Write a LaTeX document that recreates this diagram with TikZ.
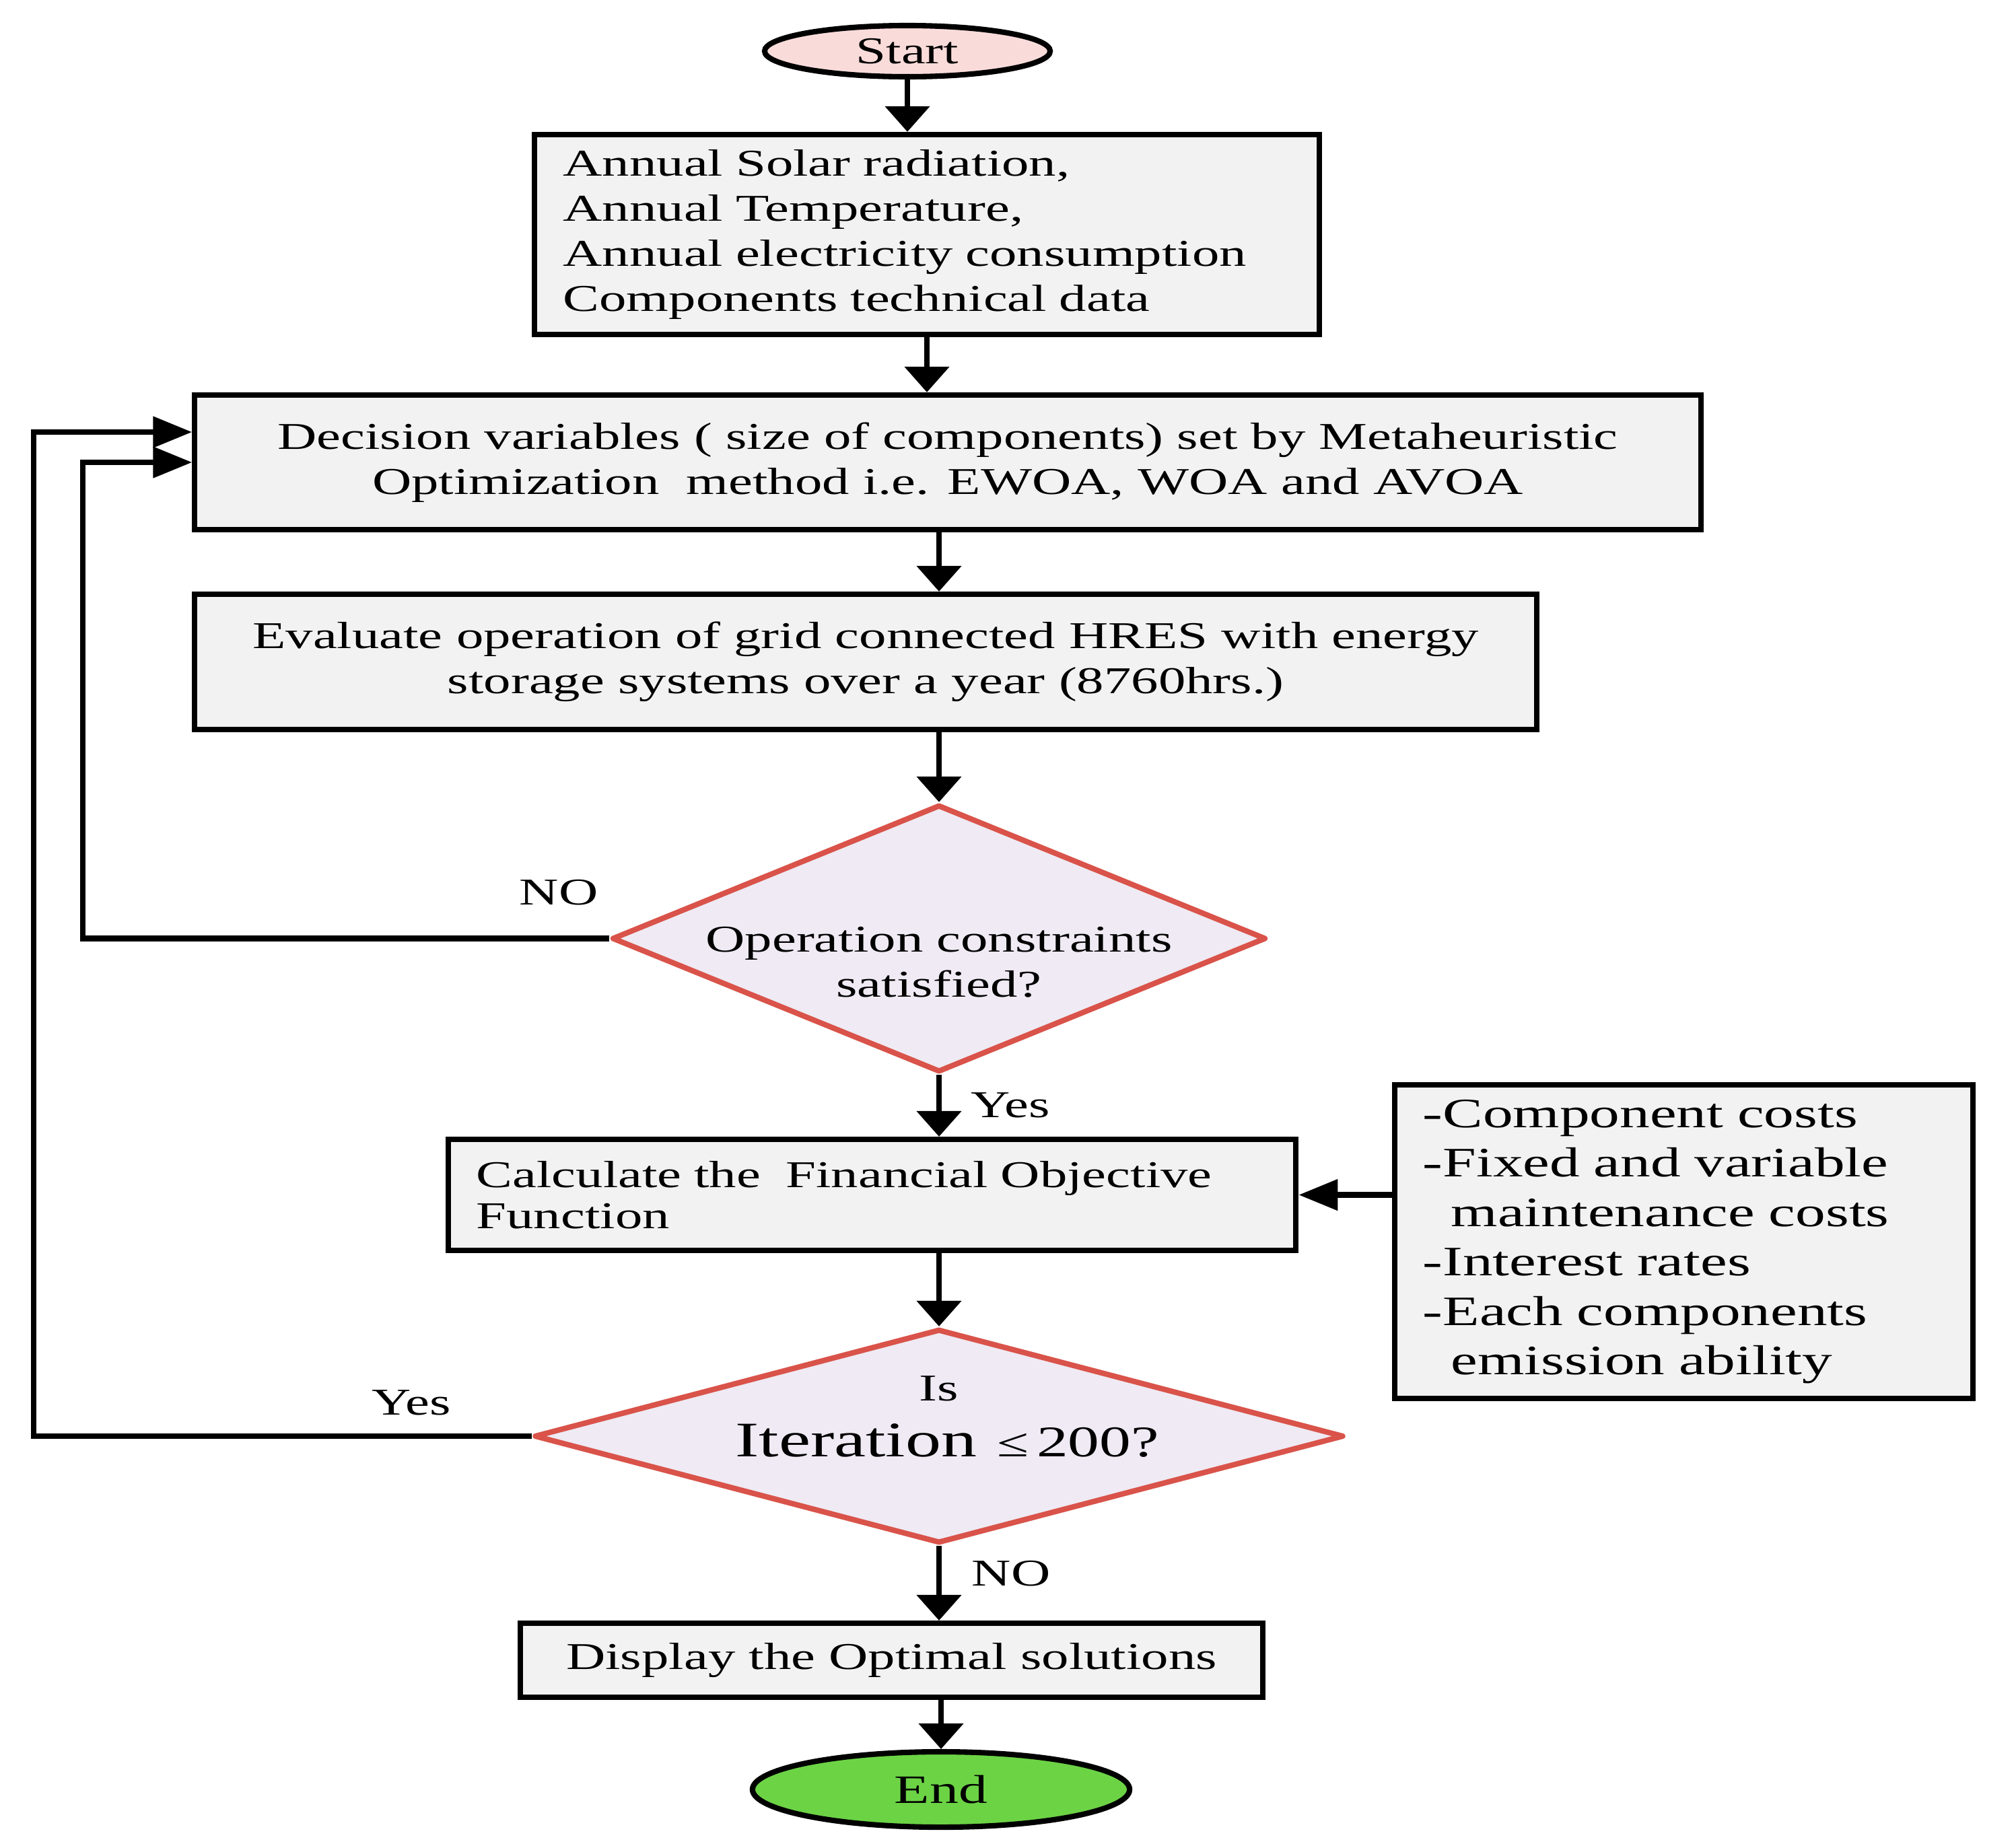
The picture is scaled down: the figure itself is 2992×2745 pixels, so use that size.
\documentclass[tikz,border=0pt]{standalone}
\usepackage{fontspec}
\setmainfont{Liberation Serif}[FakeStretch=1.435]
\usetikzlibrary{shapes.geometric,arrows.meta}
\definecolor{boxfill}{HTML}{F2F2F2}
\definecolor{diafill}{HTML}{EFEAF3}
\definecolor{diadraw}{HTML}{D9534A}
\definecolor{startfill}{HTML}{F9DCDA}
\definecolor{endfill}{HTML}{6CD345}
\tikzset{
  base/.style={font=\fontsize{16}{19}\selectfont},
  box/.style={base,draw=black,line width=2.3pt,fill=boxfill,rectangle,inner sep=0pt},
  term/.style={base,draw=black,line width=2.3pt,ellipse,inner sep=0pt},
  decision/.style={diamond,draw=diadraw,line width=2.3pt,fill=diafill,inner sep=0pt,line join=round},
  plain/.style={base,inner sep=0pt},
  varr/.style={line width=2.4pt,-{Triangle[length=0.38cm,width=0.65cm]}},
  harr/.style={line width=2.3pt,-{Triangle[length=0.58cm,width=0.45cm]}},
}
\begin{document}
\begin{tikzpicture}[x=0.01cm,y=-0.01cm]
\fill[white] (0,0) rectangle (2992,2745);
\useasboundingbox (0,0) rectangle (2992,2745);

\node[term,fill=startfill,minimum width=4.24cm,minimum height=0.76cm] (start) at (1348,76) {Start};

\node[box,minimum width=11.66cm,minimum height=2.97cm,text width=10.80cm,align=left] (box1) at (1377,348.5)
  {Annual Solar radiation,\\Annual Temperature,\\Annual electricity consumption\\Components technical data};

\node[box,minimum width=22.36cm,minimum height=2.00cm,align=center] (box2) at (1408,687)
  {Decision variables ( size of components) set by Metaheuristic\\Optimization \ method i.e. EWOA, WOA and AVOA};

\node[box,minimum width=19.92cm,minimum height=2.01cm,align=center] (box3) at (1286,983.5)
  {Evaluate operation of grid connected HRES with energy\\storage systems over a year (8760hrs.)};

\node[decision,minimum width=9.71cm,minimum height=3.97cm] (d1) at (1395,1394.5) {};
\node[plain,align=center] (d1text) at (1395,1430) {Operation constraints\\satisfied?};

\node[box,minimum width=12.59cm,minimum height=1.65cm,text width=11.75cm,align=left,
      font=\fontsize{16}{17.5}\selectfont] (box4) at (1295.5,1775.5)
  {Calculate the \ Financial Objective\\Function};

\node[box,minimum width=8.59cm,minimum height=4.66cm,text width=7.75cm,align=left,
      font=\fontsize{17.7}{20.9}\selectfont] (box5) at (2501.5,1845)
  {-Component costs\\-Fixed and variable\\\hspace*{0.42cm}maintenance costs\\-Interest rates\\-Each components\\\hspace*{0.42cm}emission ability};

\node[decision,minimum width=12.02cm,minimum height=3.18cm] (d2) at (1395,2134) {};
\node[plain] (d2is) at (1395,2063) {Is};
\node[plain,font=\fontsize{21}{25}\selectfont] (d2iter) at (1407,2140)
  {Iteration\hspace*{0.30cm}{\fontsize{17}{20}\selectfont ≤}\hspace*{0.12cm}{\fontsize{18.5}{22}\selectfont 200?}};

\node[box,minimum width=11.03cm,minimum height=1.10cm] (box6) at (1324.5,2467) {Display the Optimal solutions};

\node[term,fill=endfill,minimum width=5.60cm,minimum height=1.12cm,font=\fontsize{17}{20}\selectfont] (end) at (1398,2659) {End};

% labels
\node[plain] (lno1) at (830,1326) {NO};
\node[plain] (lyes1) at (1501,1642) {Yes};
\node[plain] (lyes2) at (611,2084) {Yes};
\node[plain] (lno2) at (1502,2338) {NO};

% turning points of the loops
\coordinate (noturn) at (123,687);
\coordinate (yesturn) at (50,642);

% main flow
\draw[varr] (start.south) -- (start.south |- box1.north);
\draw[varr] (box1.south) -- (box1.south |- box2.north);
\draw[varr] (box2.south -| d1.north) -- (box3.north -| d1.north);
\draw[varr] (box3.south -| d1.north) -- (d1.north);
\draw[varr] (d1.south) -- (d1.south |- box4.north);
\draw[varr] (box4.south -| d2.north) -- (d2.north);
\draw[varr] (d2.south) -- (d2.south |- box6.north);
\draw[varr] (box6.south -| end.north) -- (end.north);

% side input
\draw[harr] (box4.east -| box5.west) -- (box4.east);

% loops
\draw[harr,line join=miter] (d1.west) -- (d1.west -| noturn) -- (noturn) -- (box2.west);
\draw[harr,line join=miter] (d2.west) -- (d2.west -| yesturn) -- (yesturn) -- (yesturn -| box2.west);
\end{tikzpicture}
\end{document}
